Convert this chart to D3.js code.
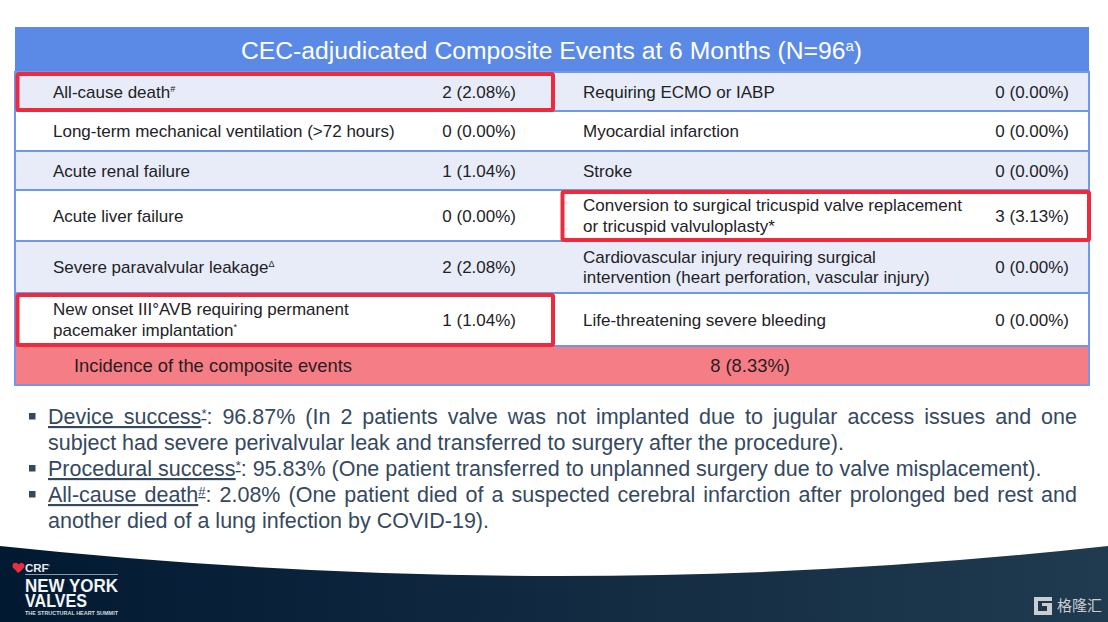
<!DOCTYPE html>
<html>
	<head>
		<meta charset="utf-8"/>
		<title>CEC-adjudicated Composite Events</title>
		<script src="https://d3js.org/d3.v7.min.js" charset="utf-8"></script>
		<style>
		html, body {
			margin: 0;
			padding: 0;
			background: #fff;
		}
		svg {
			display: block;
		}
		text {
			font-family: "Liberation Sans", Arial, sans-serif;
		}
		</style>
	</head>
	<body>
		<div id="chart"></div>
		<script type="text/javascript">
			var titleText = "CEC-adjudicated Composite Events at 6 Months (N=96";
			var titleSup = "a";

			var leftLabels = ["All-cause death", "Long-term mechanical ventilation (>72 hours)", "Acute renal failure", "Acute liver failure", "Severe paravalvular leakage", "New onset III°AVB requiring permanent\npacemaker implantation"];
			var leftMarks = ["#", "", "", "", "Δ", "*"];
			var leftCounts = [2, 0, 1, 0, 2, 1];
			var leftPercents = [2.08, 0, 1.04, 0, 2.08, 1.04];

			var rightLabels = ["Requiring ECMO or IABP", "Myocardial infarction", "Stroke", "Conversion to surgical tricuspid valve replacement\nor tricuspid valvuloplasty*", "Cardiovascular injury requiring surgical\nintervention (heart perforation, vascular injury)", "Life-threatening severe bleeding"];
			var rightCounts = [0, 0, 0, 3, 0, 0];
			var rightPercents = [0, 0, 0, 3.13, 0, 0];

			var totalLabel = "Incidence of the composite events";
			var totalCount = 8;
			var totalPercent = 8.33;

			var highlightLeft = [0, 5];
			var highlightRight = [3];

			var noteLeads = ["Device success", "", "Procedural success", "All-cause death", ""];
			var noteMarks = ["*", "", "*", "#", ""];
			var noteTexts = [
				": 96.87% (In 2 patients valve was not implanted due to jugular access issues and one",
				"subject had severe perivalvular leak and transferred to surgery after the procedure).",
				": 95.83% (One patient transferred to unplanned surgery due to valve misplacement).",
				": 2.08% (One patient died of a suspected cerebral infarction after prolonged bed rest and",
				"another died of a lung infection by COVID-19)."
			];
			var noteJustified = [true, false, false, true, false];

			var width = 1108, height = 622;
			var rowEdges = [72, 111, 151, 190, 241, 293, 346];
			var rowIds = d3.range(6);
			var rowTop = d3.scaleOrdinal(rowIds, rowEdges);
			var rowBottom = d3.scaleOrdinal(rowIds, rowEdges.slice(1));
			var noteY = d3.scaleLinear().domain([0, 4]).range([424, 528]);
			var tableLeft = 15, tableRight = 1089, headerTop = 27, tableBottom = 385;
			var rowFont = 17;
			var blue = "#5b8ae6", line = "#6f98ec", stripe = "#e8ecf8", red = "#ee2a3e", ink = "#222226", noteInk = "#34495f";

			var svg = d3.select("#chart").append("svg")
				.attr("width", width)
				.attr("height", height);

			var defs = svg.append("defs");
			var grad = defs.append("linearGradient").attr("id", "foot");
			grad.append("stop").attr("offset", "0").attr("stop-color", "#021a31");
			grad.append("stop").attr("offset", "1").attr("stop-color", "#203a50");

			// table background
			svg.append("rect")
				.attr("x", tableLeft).attr("y", headerTop)
				.attr("width", tableRight - tableLeft).attr("height", 45)
				.attr("fill", blue);

			svg.append("text")
				.attr("x", 551.5).attr("y", 59)
				.attr("text-anchor", "middle")
				.attr("font-size", 24.7)
				.attr("fill", "#fff")
				.call(function(t) {
					t.append("tspan").text(titleText);
					t.append("tspan").attr("font-size", 15).attr("dy", -8).text(titleSup);
					t.append("tspan").attr("dy", 8).text(")");
				});

			var rows = svg.selectAll("g.row")
				.data(rowIds)
				.enter()
				.append("g")
				.attr("class", "row");

			rows.append("rect")
				.attr("x", tableLeft)
				.attr("y", function(d) { return rowTop(d); })
				.attr("width", tableRight - tableLeft)
				.attr("height", function(d) { return rowBottom(d) - rowTop(d); })
				.attr("fill", function(d) { return d % 2 == 0 ? stripe : "#fff"; })
				.attr("stroke", line)
				.attr("stroke-width", 2);

			function addLabel(sel, x, label, mark) {
				var y = (rowTop(sel.datum()) + rowBottom(sel.datum())) / 2;
				var parts = label.split("\n");
				parts.forEach(function(part, i) {
					var t = sel.append("text")
						.attr("x", x)
						.attr("y", y + 6 + (i - (parts.length - 1) / 2) * 20.5)
						.attr("font-size", rowFont)
						.attr("fill", ink)
						.text(part);
					if (mark && i == parts.length - 1) {
						t.append("tspan").attr("font-size", 9).attr("dy", -6).text(mark);
					}
				});
			}

			function countText(count, pct) {
				return count + " (" + pct.toFixed(2) + "%)";
			}

			rows.each(function(d) {
				var g = d3.select(this);
				addLabel(g, 53, leftLabels[d], leftMarks[d]);
				addLabel(g, 583, rightLabels[d], "");
				var y = (rowTop(d) + rowBottom(d)) / 2 + 6;
				g.append("text").attr("x", 516).attr("y", y)
					.attr("text-anchor", "end").attr("font-size", rowFont).attr("fill", ink)
					.text(countText(leftCounts[d], leftPercents[d]));
				g.append("text").attr("x", 1069).attr("y", y)
					.attr("text-anchor", "end").attr("font-size", rowFont).attr("fill", ink)
					.text(countText(rightCounts[d], rightPercents[d]));
			});

			// total row
			svg.append("rect")
				.attr("x", tableLeft).attr("y", 346)
				.attr("width", tableRight - tableLeft).attr("height", tableBottom - 346)
				.attr("fill", "#f57e86")
				.attr("stroke", line)
				.attr("stroke-width", 2);
			svg.append("text").attr("x", 74).attr("y", 372)
				.attr("font-size", 18.4).attr("fill", "#2a1c20").text(totalLabel);
			svg.append("text").attr("x", 750).attr("y", 372)
				.attr("text-anchor", "middle").attr("font-size", 18.4).attr("fill", "#2a1c20")
				.text(countText(totalCount, totalPercent));

			// red highlight boxes
			function highlight(ids, x0, x1) {
				svg.selectAll(null)
					.data(ids)
					.enter()
					.append("rect")
					.attr("x", x0)
					.attr("y", function(d) { return rowTop(d) + 2; })
					.attr("width", x1 - x0)
					.attr("height", function(d) { return rowBottom(d) - rowTop(d) - 3; })
					.attr("rx", 1.5)
					.attr("fill", "none")
					.attr("stroke", red)
					.attr("stroke-width", 4);
			}
			highlight(highlightLeft, 17.5, 553);
			highlight(highlightRight, 562.5, 1089);

			// notes under the table
			var notes = svg.selectAll("text.note")
				.data(d3.range(noteTexts.length))
				.enter()
				.append("text")
				.attr("class", "note")
				.attr("x", 48)
				.attr("y", function(d) { return noteY(d); })
				.attr("font-size", 21.5)
				.attr("fill", noteInk);

			notes.each(function(d) {
				var t = d3.select(this);
				if (noteLeads[d]) {
					t.append("tspan").attr("text-decoration", "underline").text(noteLeads[d]);
					t.append("tspan").attr("text-decoration", "underline").attr("font-size", 13).attr("dy", -6).text(noteMarks[d]);
					t.append("tspan").attr("dy", 6).text(noteTexts[d]);
					svg.append("rect")
						.attr("x", 29).attr("y", noteY(d) - 11)
						.attr("width", 6.5).attr("height", 6.5)
						.attr("fill", noteInk);
				} else {
					t.text(noteTexts[d]);
				}
				if (noteJustified[d]) {
					var gaps = t.text().split(" ").length - 1;
					var gap = (1077 - 48 - this.getComputedTextLength()) / gaps;
					t.attr("word-spacing", gap);
				}
			});

			// footer band
			svg.append("path")
				.attr("d", "M0,546Q565,606 1108,546L1108,622L0,622Z")
				.attr("fill", "url(#foot)");

			var logo = svg.append("g");
			logo.append("path")
				.attr("d", "M18,573 C15,569 12,568 12.5,566 C12.5,562 17,562 18.5,564.5 C20,562 24.5,562.5 24.5,566 C24.5,568 21,571 18,573Z")
				.attr("fill", "#e8303c");
			logo.append("text").attr("x", 25).attr("y", 572).attr("font-size", 11.5).attr("font-weight", "bold").attr("fill", "#e6e9ec").text("CRF");
			logo.append("text").attr("x", 47).attr("y", 567).attr("font-size", 4).attr("fill", "#e6e9ec").text("®");
			logo.append("line").attr("x1", 25).attr("x2", 118).attr("y1", 574.5).attr("y2", 574.5).attr("stroke", "#8a97a3");
			logo.append("text").attr("x", 25).attr("y", 592).attr("font-size", 17.5).attr("font-weight", "bold").attr("fill", "#f2f4f5").attr("textLength", 93).attr("lengthAdjust", "spacingAndGlyphs").text("NEW YORK");
			logo.append("text").attr("x", 25).attr("y", 607).attr("font-size", 17.5).attr("font-weight", "bold").attr("fill", "#f2f4f5").attr("textLength", 62).attr("lengthAdjust", "spacingAndGlyphs").text("VALVES");
			logo.append("text").attr("x", 25).attr("y", 615).attr("font-size", 5).attr("font-weight", "bold").attr("fill", "#d5dade").attr("textLength", 93).attr("lengthAdjust", "spacingAndGlyphs").text("THE STRUCTURAL HEART SUMMIT");

			// watermark
			var mark = svg.append("g");
			mark.append("path")
				.attr("d", "M1034,597H1052V601H1038V611H1047V606H1042V603H1052V615H1034Z")
				.attr("fill", "#c9ced2");
			mark.append("text").attr("x", 1057).attr("y", 611)
				.attr("font-size", 15)
				.attr("fill", "#c9ced2")
				.style("font-family", "'Noto Sans CJK SC'")
				.text("格隆汇");
		</script>
	</body>
</html>
